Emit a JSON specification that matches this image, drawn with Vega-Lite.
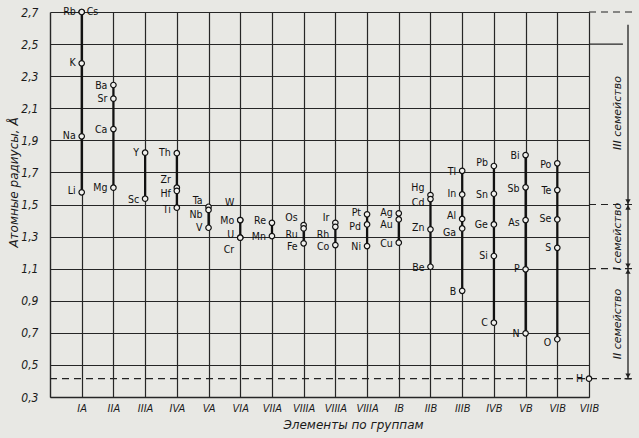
{
  "$schema": "https://vega.github.io/schema/vega-lite/v6.json",
  "width": 539,
  "height": 385,
  "autosize": {"type": "none"},
  "padding": {"left": 50, "top": 12, "right": 50, "bottom": 41},
  "background": "#e8e8e4",
  "config": {"view": {"stroke": null}, "font": "DejaVu Sans"},
  "datasets": {
    "el": [
      {"g": 1, "el": "Rb", "r": 2.70, "ly": 2.70, "side": "L"},
      {"g": 1, "el": "Cs", "r": 2.70, "ly": 2.70, "side": "R"},
      {"g": 1, "el": "K", "r": 2.38, "ly": 2.38, "side": "L"},
      {"g": 1, "el": "Na", "r": 1.925, "ly": 1.925, "side": "L"},
      {"g": 1, "el": "Li", "r": 1.576, "ly": 1.585, "side": "L"},
      {"g": 2, "el": "Ba", "r": 2.245, "ly": 2.24, "side": "L"},
      {"g": 2, "el": "Sr", "r": 2.16, "ly": 2.155, "side": "L"},
      {"g": 2, "el": "Ca", "r": 1.97, "ly": 1.965, "side": "L"},
      {"g": 2, "el": "Mg", "r": 1.605, "ly": 1.60, "side": "L"},
      {"g": 3, "el": "Y", "r": 1.823, "ly": 1.82, "side": "L"},
      {"g": 3, "el": "Sc", "r": 1.536, "ly": 1.528, "side": "L"},
      {"g": 4, "el": "Th", "r": 1.82, "ly": 1.82, "side": "L"},
      {"g": 4, "el": "Zr", "r": 1.605, "ly": 1.65, "side": "L"},
      {"g": 4, "el": "Hf", "r": 1.585, "ly": 1.567, "side": "L"},
      {"g": 4, "el": "Ti", "r": 1.48, "ly": 1.465, "side": "L"},
      {"g": 5, "el": "Ta", "r": 1.486, "ly": 1.52, "side": "L"},
      {"g": 5, "el": "Nb", "r": 1.466, "ly": 1.437, "side": "L"},
      {"g": 5, "el": "V", "r": 1.355, "ly": 1.355, "side": "L"},
      {"g": 6, "el": "W", "r": 1.403, "ly": 1.51, "side": "L"},
      {"g": 6, "el": "Mo", "r": 1.403, "ly": 1.40, "side": "L"},
      {"g": 6, "el": "U", "r": 1.293, "ly": 1.31, "side": "L"},
      {"g": 6, "el": "Cr", "r": 1.293, "ly": 1.216, "side": "L"},
      {"g": 7, "el": "Re", "r": 1.386, "ly": 1.40, "side": "L"},
      {"g": 7, "el": "Mn", "r": 1.303, "ly": 1.30, "side": "L"},
      {"g": 8, "el": "Os", "r": 1.372, "ly": 1.414, "side": "L"},
      {"g": 8, "el": "Ru", "r": 1.351, "ly": 1.31, "side": "L"},
      {"g": 8, "el": "Fe", "r": 1.258, "ly": 1.237, "side": "L"},
      {"g": 9, "el": "Ir", "r": 1.386, "ly": 1.414, "side": "L"},
      {"g": 9, "el": "Rh", "r": 1.361, "ly": 1.31, "side": "L"},
      {"g": 9, "el": "Co", "r": 1.247, "ly": 1.237, "side": "L"},
      {"g": 10, "el": "Pt", "r": 1.439, "ly": 1.445, "side": "L"},
      {"g": 10, "el": "Pd", "r": 1.376, "ly": 1.361, "side": "L"},
      {"g": 10, "el": "Ni", "r": 1.241, "ly": 1.237, "side": "L"},
      {"g": 11, "el": "Ag", "r": 1.445, "ly": 1.445, "side": "L"},
      {"g": 11, "el": "Au", "r": 1.407, "ly": 1.372, "side": "L"},
      {"g": 11, "el": "Cu", "r": 1.262, "ly": 1.254, "side": "L"},
      {"g": 12, "el": "Hg", "r": 1.559, "ly": 1.60, "side": "L"},
      {"g": 12, "el": "Cd", "r": 1.534, "ly": 1.507, "side": "L"},
      {"g": 12, "el": "Zn", "r": 1.345, "ly": 1.351, "side": "L"},
      {"g": 12, "el": "Be", "r": 1.112, "ly": 1.106, "side": "L"},
      {"g": 13, "el": "Tl", "r": 1.71, "ly": 1.704, "side": "L"},
      {"g": 13, "el": "In", "r": 1.563, "ly": 1.563, "side": "L"},
      {"g": 13, "el": "Al", "r": 1.41, "ly": 1.428, "side": "L"},
      {"g": 13, "el": "Ga", "r": 1.351, "ly": 1.32, "side": "L"},
      {"g": 13, "el": "B", "r": 0.962, "ly": 0.956, "side": "L"},
      {"g": 14, "el": "Pb", "r": 1.74, "ly": 1.757, "side": "L"},
      {"g": 14, "el": "Sn", "r": 1.567, "ly": 1.56, "side": "L"},
      {"g": 14, "el": "Ge", "r": 1.376, "ly": 1.372, "side": "L"},
      {"g": 14, "el": "Si", "r": 1.179, "ly": 1.18, "side": "L"},
      {"g": 14, "el": "C", "r": 0.763, "ly": 0.759, "side": "L"},
      {"g": 15, "el": "Bi", "r": 1.808, "ly": 1.80, "side": "L"},
      {"g": 15, "el": "Sb", "r": 1.607, "ly": 1.595, "side": "L"},
      {"g": 15, "el": "As", "r": 1.403, "ly": 1.386, "side": "L"},
      {"g": 15, "el": "P", "r": 1.096, "ly": 1.10, "side": "L"},
      {"g": 15, "el": "N", "r": 0.697, "ly": 0.692, "side": "L"},
      {"g": 16, "el": "Po", "r": 1.757, "ly": 1.746, "side": "L"},
      {"g": 16, "el": "Te", "r": 1.59, "ly": 1.586, "side": "L"},
      {"g": 16, "el": "Se", "r": 1.407, "ly": 1.407, "side": "L"},
      {"g": 16, "el": "S", "r": 1.23, "ly": 1.227, "side": "L"},
      {"g": 16, "el": "O", "r": 0.66, "ly": 0.638, "side": "L"},
      {"g": 17, "el": "H", "r": 0.414, "ly": 0.414, "side": "L"}
    ],
    "fam": [
      {"f": "III семейство", "top": 2.62, "bot": 1.5, "mid": 2.07},
      {"f": "I семейство", "top": 1.5, "bot": 1.1, "mid": 1.3},
      {"f": "II семейство", "top": 1.1, "bot": 0.414, "mid": 0.755}
    ],
    "heads": [
      {"v": 1.518, "s": "triangle-down"},
      {"v": 1.482, "s": "triangle-up"},
      {"v": 1.118, "s": "triangle-down"},
      {"v": 1.082, "s": "triangle-up"},
      {"v": 0.432, "s": "triangle-down"}
    ],
    "bounds": [{"v": 2.7}, {"v": 1.5}, {"v": 1.1}]
  },
  "layer": [
    {
      "data": {"name": "el"},
      "mark": {"type": "rule", "strokeWidth": 2.2, "color": "#111"},
      "encoding": {
        "x": {
          "field": "g", "type": "quantitative",
          "scale": {"domain": [0, 17], "nice": false, "zero": false},
          "axis": {
            "values": [1, 2, 3, 4, 5, 6, 7, 8, 9, 10, 11, 12, 13, 14, 15, 16, 17],
            "tickCount": 60,
            "labelExpr": "['','IA','IIA','IIIA','IVA','VA','VIA','VIIA','VIIIA','VIIIA','VIIIA','IB','IIB','IIIB','IVB','VB','VIB','VIIB'][datum.value]",
            "labelOverlap": false, "labelFlush": false,
            "grid": true, "gridColor": "#262626", "gridWidth": 1.2, "gridOpacity": 1,
            "ticks": false, "domainColor": "#262626", "domainWidth": 1.4,
            "labelFont": "DejaVu Sans Condensed, DejaVu Sans", "labelFontStyle": "italic", "labelFontSize": 11,
            "labelColor": "#1a1a1a", "labelPadding": 5,
            "title": "Элементы по группам", "titleFont": "DejaVu Sans", "titleFontStyle": "italic",
            "titleFontWeight": "normal", "titleFontSize": 12, "titleColor": "#1a1a1a",
            "titleX": 303, "titleY": 22, "titleBaseline": "top"
          }
        },
        "y": {
          "aggregate": "min", "field": "r", "type": "quantitative",
          "scale": {"domain": [0.3, 2.7], "nice": false, "zero": false},
          "axis": {
            "values": [0.3, 0.5, 0.7, 0.9, 1.1, 1.3, 1.5, 1.7, 1.9, 2.1, 2.3, 2.5, 2.7],
            "tickCount": 60,
            "labelExpr": "replace(format(datum.value, '.1f'), '.', ',')",
            "labelOverlap": false, "labelFlush": false,
            "grid": true, "gridColor": "#262626", "gridWidth": 1.2, "gridOpacity": 1,
            "ticks": false, "domainColor": "#262626", "domainWidth": 1.4,
            "labelFont": "DejaVu Sans Condensed, DejaVu Sans", "labelFontStyle": "italic", "labelFontSize": 12,
            "labelColor": "#1a1a1a", "labelPadding": 12,
            "title": "Атомные радиусы, Å", "titleFont": "DejaVu Sans", "titleFontStyle": "italic",
            "titleFontWeight": "normal", "titleFontSize": 12, "titleColor": "#1a1a1a",
            "titleAngle": 270, "titleX": -37, "titleY": 170, "titleBaseline": "middle", "titleAlign": "center"
          }
        },
        "y2": {"aggregate": "max", "field": "r"}
      }
    },
    {
      "data": {"name": "el"},
      "transform": [{"filter": "datum.el == 'H'"}],
      "mark": {"type": "rule", "strokeWidth": 1.2, "color": "#222", "strokeDash": [7, 5]},
      "encoding": {
        "x": {"datum": 0, "type": "quantitative"},
        "x2": {"datum": 18.35},
        "y": {"field": "r", "type": "quantitative"}
      }
    },
    {
      "data": {"name": "bounds"},
      "mark": {"type": "rule", "strokeWidth": 1.2, "color": "#222", "strokeDash": [7, 5]},
      "encoding": {
        "x": {"datum": 17, "type": "quantitative"},
        "x2": {"datum": 18.4},
        "y": {"field": "v", "type": "quantitative"}
      }
    },
    {
      "data": {"values": [{}]},
      "mark": {"type": "rule", "strokeWidth": 1.2, "color": "#262626"},
      "encoding": {
        "x": {"datum": 17, "type": "quantitative"},
        "x2": {"datum": 18.07},
        "y": {"datum": 2.5, "type": "quantitative"}
      }
    },
    {
      "data": {"values": [{}]},
      "mark": {"type": "rule", "strokeWidth": 1.4, "color": "#222"},
      "encoding": {
        "x": {"datum": 18.12, "type": "quantitative"},
        "x2": {"datum": 18.34},
        "y": {"datum": 0.414, "type": "quantitative"}
      }
    },
    {
      "data": {"name": "fam"},
      "mark": {"type": "rule", "strokeWidth": 1.3, "color": "#222"},
      "encoding": {
        "x": {"datum": 18.23, "type": "quantitative"},
        "y": {"field": "top", "type": "quantitative"},
        "y2": {"field": "bot"}
      }
    },
    {
      "data": {"name": "heads"},
      "mark": {"type": "point", "filled": true, "color": "#222", "size": 28, "opacity": 1},
      "encoding": {
        "x": {"datum": 18.23, "type": "quantitative"},
        "y": {"field": "v", "type": "quantitative"},
        "shape": {"field": "s", "type": "nominal", "scale": null}
      }
    },
    {
      "data": {"name": "fam"},
      "mark": {"type": "text", "angle": 270, "font": "DejaVu Sans", "fontStyle": "italic", "fontSize": 11, "color": "#1a1a1a", "align": "center", "baseline": "middle"},
      "encoding": {
        "x": {"datum": 17.9, "type": "quantitative"},
        "y": {"field": "mid", "type": "quantitative"},
        "text": {"field": "f"}
      }
    },
    {
      "data": {"name": "el"},
      "mark": {"type": "point", "shape": "circle", "filled": true, "fill": "#f1f1ee", "stroke": "#111", "strokeWidth": 1.2, "size": 30, "opacity": 1},
      "encoding": {
        "x": {"field": "g", "type": "quantitative"},
        "y": {"field": "r", "type": "quantitative"}
      }
    },
    {
      "data": {"name": "el"},
      "transform": [{"filter": "datum.side == 'L'"}],
      "mark": {"type": "text", "align": "right", "baseline": "middle", "dx": -6, "font": "DejaVu Sans Condensed, Liberation Sans Narrow, DejaVu Sans", "fontSize": 10.5, "color": "#111"},
      "encoding": {
        "x": {"field": "g", "type": "quantitative"},
        "y": {"field": "ly", "type": "quantitative"},
        "text": {"field": "el"}
      }
    },
    {
      "data": {"name": "el"},
      "transform": [{"filter": "datum.side == 'R'"}],
      "mark": {"type": "text", "align": "left", "baseline": "middle", "dx": 5, "font": "DejaVu Sans Condensed, Liberation Sans Narrow, DejaVu Sans", "fontSize": 10.5, "color": "#111"},
      "encoding": {
        "x": {"field": "g", "type": "quantitative"},
        "y": {"field": "ly", "type": "quantitative"},
        "text": {"field": "el"}
      }
    }
  ]
}
